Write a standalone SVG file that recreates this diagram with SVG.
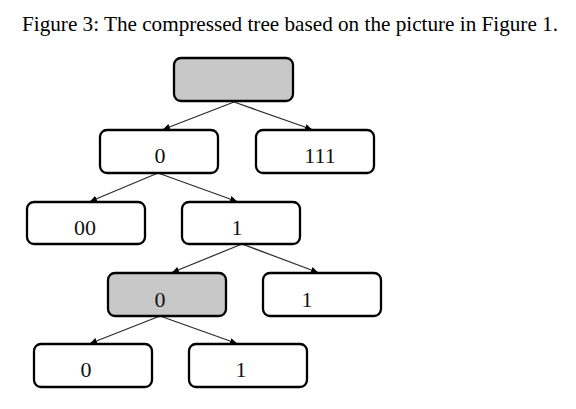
<svg xmlns="http://www.w3.org/2000/svg" width="576" height="409" viewBox="0 0 576 409">
<defs>
<style>
.box{fill:#ffffff;stroke:#000000;stroke-width:2.3}
.gray{fill:#c8c8c8}
.lbl{font-family:"Liberation Serif","DejaVu Serif",serif;font-size:22px;fill:#111111;text-anchor:middle}
.title{font-family:"Liberation Serif","DejaVu Serif",serif;font-size:21.5px;fill:#000000}
.edge{stroke:#2a2a2a;stroke-width:1.2;fill:none;marker-end:url(#ah)}
</style>
<marker id="ah" markerUnits="userSpaceOnUse" markerWidth="8" markerHeight="8" viewBox="0 0 8 8" refX="7" refY="4" orient="auto">
<path d="M0,0.8 L7,4 L0,7.2 Z" fill="#000000"/>
</marker>
</defs>
<rect width="576" height="409" fill="#ffffff"/>
<text class="title" x="22" y="31" textLength="536" lengthAdjust="spacingAndGlyphs">Figure 3: The compressed tree based on the picture in Figure 1.</text>
<g id="connectors">
<line class="edge" x1="234" y1="102" x2="163" y2="129.5"/>
<line class="edge" x1="234" y1="102" x2="312" y2="129.5"/>
<line class="edge" x1="158" y1="173" x2="90" y2="201.5"/>
<line class="edge" x1="158" y1="173" x2="237" y2="201.5"/>
<line class="edge" x1="242" y1="244" x2="172" y2="272.5"/>
<line class="edge" x1="242" y1="244" x2="318" y2="272.5"/>
<line class="edge" x1="160" y1="316" x2="90" y2="343.5"/>
<line class="edge" x1="160" y1="316" x2="237" y2="343.5"/>
</g>
<g id="root">
<rect class="box gray" x="174" y="58" width="119" height="43" rx="7"/>
</g>
<g id="n0">
<rect class="box" x="100" y="130" width="118" height="43" rx="7"/>
<text class="lbl" x="160" y="163">0</text>
</g>
<g id="n111">
<rect class="box" x="256" y="130" width="118" height="43" rx="7"/>
<text class="lbl" x="320" y="163">111</text>
</g>
<g id="n00">
<rect class="box" x="27" y="202" width="118" height="42" rx="7"/>
<text class="lbl" x="85" y="235">00</text>
</g>
<g id="n01">
<rect class="box" x="182" y="202" width="118" height="42" rx="7"/>
<text class="lbl" x="237" y="235">1</text>
</g>
<g id="n010">
<rect class="box gray" x="108" y="273" width="118" height="43" rx="7"/>
<text class="lbl" x="160" y="307">0</text>
</g>
<g id="n011">
<rect class="box" x="263" y="273" width="118" height="43" rx="7"/>
<text class="lbl" x="307" y="307">1</text>
</g>
<g id="n0100">
<rect class="box" x="34" y="344" width="118" height="43" rx="7"/>
<text class="lbl" x="86" y="377">0</text>
</g>
<g id="n0101">
<rect class="box" x="189" y="344" width="118" height="43" rx="7"/>
<text class="lbl" x="241" y="377">1</text>
</g>
</svg>
